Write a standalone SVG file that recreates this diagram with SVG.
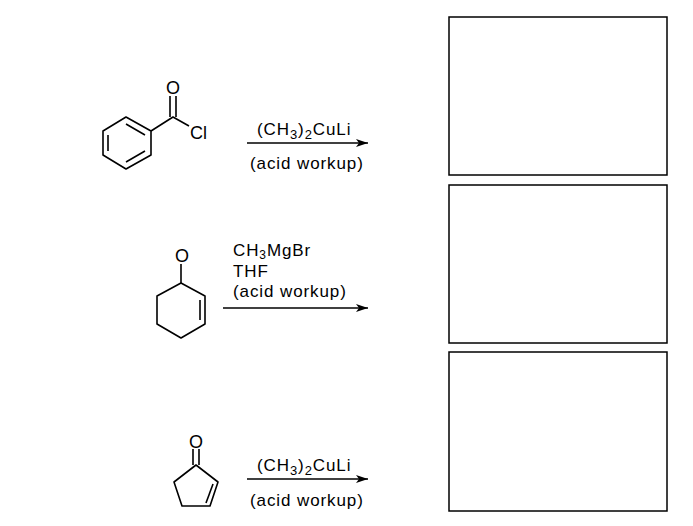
<svg xmlns="http://www.w3.org/2000/svg" width="693" height="526" viewBox="0 0 693 526">
<defs>
<style>
.b{fill:none;stroke:#000;stroke-width:1.6;stroke-linejoin:round}
.t{font-family:"Liberation Sans",Arial,sans-serif;font-size:17px;letter-spacing:0.9px;fill:#000}
.a{font-family:"Liberation Sans",Arial,sans-serif;font-size:18px;fill:#000}
.box{fill:none;stroke:#000;stroke-width:1.5}
</style>
<marker id="ah" markerWidth="12" markerHeight="8" refX="12" refY="4" orient="auto" markerUnits="userSpaceOnUse"><path d="M0,0 L12,4 L0,8 L3,4 Z" fill="#000"/></marker>
</defs>
<rect width="693" height="526" fill="#fff"/>
<g id="benzoyl-chloride">
<path class="b" d="M126,117 L151,131 L151,155 L126,169 L103,155 L103,131 Z"/>
<path class="b" d="M126,124 L145,135 M145,151 L126,162 M108,151 L108,135"/>
<path class="b" d="M151,131 L173,117 L189,126"/>
<path class="b" d="M170,117 L170,96 M176,117 L176,96"/>
<text class="a" x="173" y="94" text-anchor="middle">O</text>
<text class="a" x="190" y="139">Cl</text>
</g>
<g id="cyclohexenone">
<path class="b" d="M181,283 L205,296 L205,324 L181,338 L157,324 L157,296 Z"/>
<path class="b" d="M200,300 L200,320"/>
<path class="b" d="M181,283 L181,264"/>
<text class="a" x="182" y="262" text-anchor="middle">O</text>
</g>
<g id="cyclopentenone">
<path class="b" d="M196,465 L218,482 L210,506 L182,506 L174,482 Z"/>
<path class="b" d="M213,484 L206,503"/>
<path class="b" d="M193,465 L193,449 M199,465 L199,449"/>
<text class="a" x="196" y="448" text-anchor="middle">O</text>
</g>
<g id="connectors">
<line x1="247" y1="143" x2="368" y2="143" stroke="#000" stroke-width="1.5" marker-end="url(#ah)"/>
<line x1="223" y1="308" x2="368" y2="308" stroke="#000" stroke-width="1.5" marker-end="url(#ah)"/>
<line x1="247" y1="479" x2="368" y2="479" stroke="#000" stroke-width="1.5" marker-end="url(#ah)"/>
</g>
<g id="reagents1">
<text class="t" x="257" y="135">(CH<tspan font-size="13" dy="4">3</tspan><tspan dy="-4">)</tspan><tspan font-size="13" dy="4">2</tspan><tspan dy="-4">CuLi</tspan></text>
<text class="t" x="250" y="169">(acid workup)</text>
</g>
<g id="reagents2">
<text class="t" x="233" y="256">CH<tspan font-size="12" dy="3">3</tspan><tspan dy="-3">MgBr</tspan></text>
<text class="t" x="233" y="277">THF</text>
<text class="t" x="233" y="297">(acid workup)</text>
</g>
<g id="reagents3">
<text class="t" x="257" y="471">(CH<tspan font-size="13" dy="4">3</tspan><tspan dy="-4">)</tspan><tspan font-size="13" dy="4">2</tspan><tspan dy="-4">CuLi</tspan></text>
<text class="t" x="250" y="506">(acid workup)</text>
</g>
<g id="boxes">
<rect class="box" x="449" y="17" width="218" height="158"/>
<rect class="box" x="449" y="185" width="218" height="158"/>
<rect class="box" x="449" y="352" width="218" height="159"/>
</g>
</svg>
